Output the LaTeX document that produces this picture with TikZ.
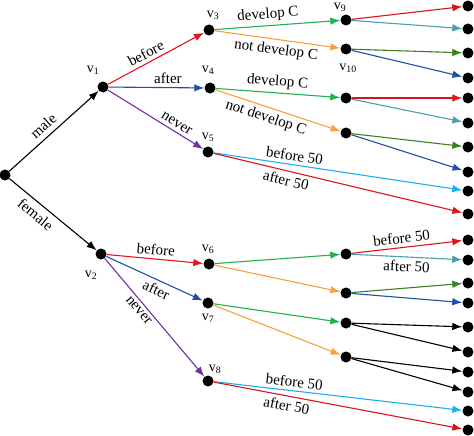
\documentclass[tikz,border=0pt]{standalone}
\usepackage{fontspec}
\setmainfont{Liberation Serif}
\usetikzlibrary{arrows.meta}
\definecolor{cRed}{HTML}{E8141C}
\definecolor{cLeafRed}{HTML}{D8141E}
\definecolor{cBlue}{HTML}{1F4FA8}
\definecolor{cPurple}{HTML}{7030A0}
\definecolor{cGreen}{HTML}{22B050}
\definecolor{cOrange}{HTML}{F8A040}
\definecolor{cTeal}{HTML}{4A9EB0}
\definecolor{cDGreen}{HTML}{3F7F1F}
\definecolor{cCyan}{HTML}{1AB0F0}
\begin{document}
\begin{tikzpicture}[x=1pt,y=-1pt,
  dot/.style={circle,fill=black,inner sep=0pt,minimum size=11pt},
  edge/.style={line width=1.1pt,-{Latex[length=10pt,width=7.5pt]}},
  lbl/.style={font=\fontsize{15}{18}\selectfont,inner sep=3.5pt},
  vl/.style={font=\fontsize{14}{16}\selectfont,inner sep=0pt}]
\useasboundingbox (0,0) rectangle (474,436);
% internal nodes
\node[dot] (r) at (5,175) {};
\node[dot] (v1) at (103,87) {};
\node[dot] (v2) at (101,254) {};
\node[dot] (v3) at (209,30) {};
\node[dot] (v4) at (210,88) {};
\node[dot] (v5) at (208,152) {};
\node[dot] (v6) at (209,264) {};
\node[dot] (v7) at (208,303) {};
\node[dot] (v8) at (208,381) {};
\node[dot] (v9) at (346,20) {};
\node[dot] (v10) at (346,49) {};
\node[dot] (a4) at (346,98) {};
\node[dot] (b4) at (346,133) {};
\node[dot] (a6) at (346,254) {};
\node[dot] (b6) at (346,293) {};
\node[dot] (a7) at (346,323) {};
\node[dot] (b7) at (346,357) {};
% leaves
\foreach \i/\y in {1/6,2/29,3/53,4/78,5/98,6/123,7/147,8/172,9/191,10/214,11/240,12/260,13/283,14/303,15/327,16/352,17/372,18/392,19/411,20/430}
  \node[dot] (l\i) at (468,\y) {};
% vertex labels
\node[vl] (t1) at (93,70) {v\textsubscript{1}};
\node[vl] (t2) at (91,275) {v\textsubscript{2}};
\node[vl] (t3) at (213,15) {v\textsubscript{3}};
\node[vl] (t4) at (208,70) {v\textsubscript{4}};
\node[vl] (t5) at (208,137) {v\textsubscript{5}};
\node[vl] (t6) at (208,249) {v\textsubscript{6}};
\node[vl] (t7) at (208,318) {v\textsubscript{7}};
\node[vl] (t8) at (215,369) {v\textsubscript{8}};
\node[vl] (t9) at (340,7) {v\textsubscript{9}};
\node[vl] (t10) at (348,68) {v\textsubscript{10}};
% level 1
\draw[edge,black] (r) -- node[lbl,sloped,above,pos=0.46,inner sep=5pt] {male} (v1);
\draw[edge,black] (r) -- node[lbl,sloped,below,pos=0.38,inner sep=5pt] {female} (v2);
% level 2
\draw[edge,cRed] (v1) -- node[lbl,sloped,above,pos=0.44,black] {before} (v3);
\draw[edge,cBlue] (v1) -- node[lbl,above,pos=0.62,black] {after} (v4);
\draw[edge,cPurple] (v1) -- node[lbl,sloped,above,pos=0.68,black] {never} (v5);
\draw[edge,cRed] (v2) -- node[lbl,sloped,above,pos=0.5,black] {before} (v6);
\draw[edge,cBlue] (v2) -- node[lbl,sloped,below,pos=0.56,black] {after} (v7);
\draw[edge,cPurple] (v2) -- node[lbl,sloped,below,pos=0.4,black] {never} (v8);
% level 3
\draw[edge,cGreen] (v3) -- node[lbl,sloped,above,pos=0.43,black] {develop C} (v9);
\draw[edge,cOrange] (v3) -- node[lbl,sloped,below,pos=0.5,black] {not develop C} (v10);
\draw[edge,cGreen] (v4) -- node[lbl,sloped,above,pos=0.49,black] {develop C} (a4);
\draw[edge,cOrange] (v4) -- node[lbl,sloped,below,pos=0.43,black] {not develop C} (b4);
\draw[edge,cCyan] (v5) -- node[lbl,sloped,above,pos=0.32,black] {before 50} (l9);
\draw[edge,cLeafRed] (v5) -- node[lbl,sloped,below,pos=0.3,black] {after 50} (l10);
\draw[edge,cGreen] (v6) -- (a6);
\draw[edge,cOrange] (v6) -- (b6);
\draw[edge,cGreen] (v7) -- (a7);
\draw[edge,cOrange] (v7) -- (b7);
\draw[edge,cCyan] (v8) -- node[lbl,sloped,above,pos=0.32,black] {before 50} (l19);
\draw[edge,cLeafRed] (v8) -- node[lbl,sloped,below,pos=0.3,black] {after 50} (l20);
% level 4
\draw[edge,cLeafRed] (v9) -- (l1);
\draw[edge,cTeal] (v9) -- (l2);
\draw[edge,cDGreen] (v10) -- (l3);
\draw[edge,cBlue] (v10) -- (l4);
\draw[edge,cLeafRed] (a4) -- (l5);
\draw[edge,cTeal] (a4) -- (l6);
\draw[edge,cDGreen] (b4) -- (l7);
\draw[edge,cBlue] (b4) -- (l8);
\draw[edge,cLeafRed] (a6) -- node[lbl,sloped,above,pos=0.46,black] {before 50} (l11);
\draw[edge,cTeal] (a6) -- node[lbl,sloped,below,pos=0.5,black] {after 50} (l12);
\draw[edge,cDGreen] (b6) -- (l13);
\draw[edge,cBlue] (b6) -- (l14);
\draw[edge,black] (a7) -- (l15);
\draw[edge,black] (a7) -- (l16);
\draw[edge,black] (b7) -- (l17);
\draw[edge,black] (b7) -- (l18);
\end{tikzpicture}
\end{document}
